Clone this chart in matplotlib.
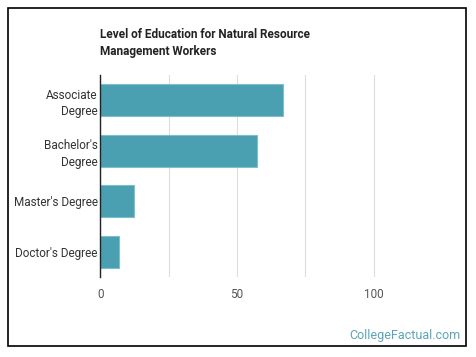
import matplotlib.pyplot as plt
from matplotlib.patches import Rectangle

categories = ["Associate\nDegree", "Bachelor's\nDegree", "Master's Degree", "Doctor's Degree"]
values = [66.7, 57.5, 12.5, 6.7]
xticks = [0, 50, 100]
title = "Level of Education for Natural Resource\nManagement Workers"

plt.rcParams['font.family'] = ['Roboto', 'DejaVu Sans']

fig = plt.figure(figsize=(4.76, 3.57), dpi=100)
ax = fig.add_axes([0.2107, 0.224, 0.7179, 0.566])

ypos = list(range(len(categories)))
ax.barh(ypos, values, height=0.63, color="#4a9fb1", edgecolor="#7cc0cc", linewidth=0.8, zorder=3)
ax.set_ylim(len(categories) - 0.5, -0.5)
ax.set_xlim(0, 125)
ax.set_yticks(ypos)
ax.set_yticklabels(categories, fontsize=8.5, color="#333333", linespacing=1.35)
ax.set_xticks(xticks)
ax.set_xticklabels([str(t) for t in xticks], fontsize=8.5, color="#555555")
ax.set_xticks([25, 75], minor=True)
ax.grid(axis="x", which="both", color="#dddddd", linewidth=0.8, zorder=0)
ax.tick_params(axis="both", which="both", length=0, pad=2)
ax.tick_params(axis="x", pad=8)
for s in ["top", "right", "bottom"]:
    ax.spines[s].set_visible(False)
ax.spines["left"].set_color("#222222")
ax.spines["left"].set_linewidth(1)
ax.spines["left"].set_zorder(4)

fig.text(100 / 476, 1 - 43 / 357, title, fontsize=8.5, fontweight="bold", color="#222222",
         va="center", ha="left", linespacing=1.5)
fig.text(461 / 476, 1 - 335 / 357, "CollegeFactual.com", fontsize=9, color="#5aa4b9",
         ha="right", va="center")

fig.patches.append(Rectangle((8 / 476, 1 - 346 / 357), 458 / 476, 338 / 357,
                             transform=fig.transFigure, fill=False, edgecolor="black",
                             linewidth=1.2))

fig.savefig("out.png", dpi=100)
